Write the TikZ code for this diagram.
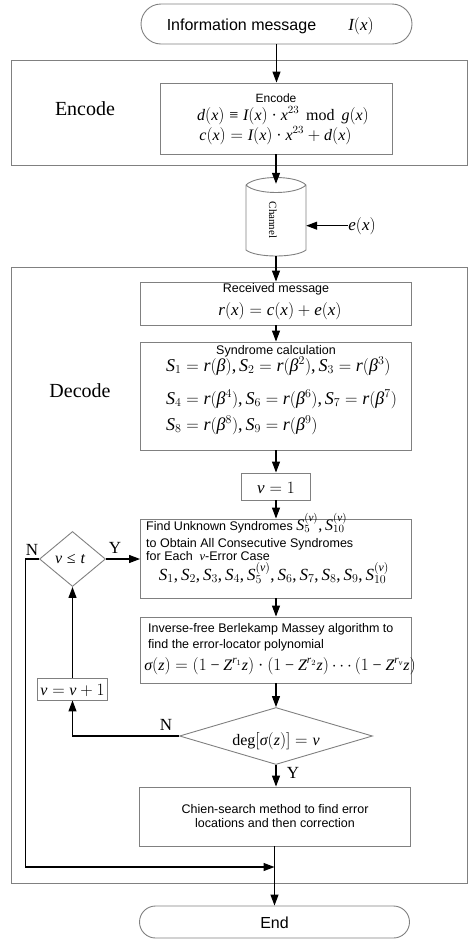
\documentclass[tikz,border=0pt]{standalone}
\usepackage{fontspec}
\setmainfont{Liberation Serif}
\setsansfont{Liberation Sans}
\newfontfamily\libser{Liberation Serif}[NFSSFamily=libser]
\DeclareSymbolFont{tletters}{TU}{libser}{m}{it}
\DeclareSymbolFont{tupright}{TU}{libser}{m}{n}
\newcommand\mletter[1]{\Umathcode`#1="7 \symtletters `#1\relax}
\newcommand\mup[2]{\Umathcode`#2="#1 \symtupright `#2\relax}
\mletter a\mletter c\mletter d\mletter e\mletter g\mletter r\mletter t\mletter v\mletter x\mletter z
\mletter I\mletter S\mletter Z
\mup70\mup71\mup72\mup73\mup74\mup75\mup76\mup77\mup78\mup79
\mup4(\mup5)\mup4[\mup5]\mup3=\mup2+\mup6,
\Umathcode`-="2 \symtupright "2212\relax
\Umathchardef\beta="7 \symtletters "03B2\relax
\Umathchardef\sigma="7 \symtletters "03C3\relax
\Umathchardef\equiv="3 \symtupright "2261\relax
\Umathchardef\leq="3 \symtupright "2264\relax
\let\le\leq
\Umathchardef\cdot="2 \symtupright "00B7\relax
\renewcommand\deg{\mathop{\hbox{\libser deg}}\nolimits}
\newcommand\mmod{\mathop{\hbox{\libser mod}}\nolimits}
\usetikzlibrary{arrows.meta,shapes.geometric}
\definecolor{boxgray}{RGB}{128,128,128}
\newcommand{\fs}[1]{\fontsize{#1}{#1}\selectfont}
\begin{document}
\begin{tikzpicture}[x=1pt,y=-1pt,
  rect/.style={draw=boxgray,line width=0.9pt,inner sep=0pt},
  dia/.style={draw=boxgray,line width=0.9pt,diamond,inner sep=0pt},
  conn/.style={line width=1.1pt,-{Triangle[length=11pt,width=8pt]}},
  lab/.style={inner sep=0pt},
  sf/.style={lab,font=\sffamily\fs{12.5}},
  mth/.style={lab,font=\fs{#1}},
]
\useasboundingbox (0,0) rectangle (474,946);
% ---------- start
\node[rect,rounded corners=20pt,minimum width=271pt,minimum height=40pt] (start) at (276.5,24) {};
\node[lab,anchor=base,font=\sffamily\fs{16}] (starttxt) at (241.5,30) {Information message};
\node[mth=17,anchor=base] (startI) at (361,30) {$I(x)$};
% ---------- encode
\node[rect,minimum width=456pt,minimum height=105pt] (encouter) at (239,112.5) {};
\node[mth=20,anchor=base] (enclab) at (85,115) {Encode};
\node[rect,minimum width=232pt,minimum height=71pt] (enc) at (276,118.5) {};
\node[lab,anchor=base,font=\sffamily\fs{12}] (enctitle) at (276,102) {Encode};
\node[mth=16,anchor=base] (encl1) at (283,120) {$d(x)\equiv I(x)\cdot x^{23}\ \mmod\ g(x)$};
\node[mth=16,anchor=base] (encl2) at (275.5,140) {$c(x)=I(x)\cdot x^{23}+d(x)$};
% ---------- channel
\node[lab,minimum width=60pt,minimum height=72pt] (chan) at (276,220) {};
\draw[boxgray,line width=0.9pt]
  (246,185) .. controls (256,175) and (296,175) .. (306,185)
  (246,185) .. controls (256,195) and (296,195) .. (306,185)
  (246,185) -- (246,250) .. controls (256,258) and (296,258) .. (306,250) -- (306,185);
\node[mth=11,rotate=-90] (chantxt) at (273,220) {Channel};
\node[mth=17,anchor=base] (ex) at (362,230) {$e(x)$};
% ---------- decode
\node[rect,minimum width=456pt,minimum height=616pt] (decouter) at (239,575) {};
\node[mth=20,anchor=base] (declab) at (80,397) {Decode};
\node[rect,minimum width=271pt,minimum height=43pt] (recv) at (276,303.5) {};
\node[sf,anchor=base] (recvtitle) at (276,292) {Received message};
\node[mth=17,anchor=base] (recvm) at (280,315) {$r(x)=c(x)+e(x)$};
\node[rect,minimum width=271pt,minimum height=108pt] (synd) at (276,396) {};
\node[sf,anchor=base] (syndtitle) at (276,354) {Syndrome calculation};
\node[mth=18,anchor=base west] (synd1) at (166,371) {$S_1=r(\beta),S_2=r(\beta^2),S_3=r(\beta^3)$};
\node[mth=18,anchor=base west] (synd2) at (166,404) {$S_4=r(\beta^4),S_6=r(\beta^6),S_7=r(\beta^7)$};
\node[mth=18,anchor=base west] (synd3) at (166,430) {$S_8=r(\beta^8),S_9=r(\beta^9)$};
\node[rect,minimum width=69pt,minimum height=27pt] (v1) at (276,486.5) {};
\node[mth=17,anchor=base] (v1txt) at (276,493) {$v=1$};
\node[rect,minimum width=271pt,minimum height=79pt] (find) at (276,558.5) {};
\node[sf,anchor=base west] (find1) at (146,530) {Find Unknown Syndromes {\fs{16}$S_5^{(v)},S_{10}^{(v)}$}};
\node[sf,anchor=base west] (find2) at (146,547) {to Obtain All Consecutive Syndromes};
\node[sf,anchor=base west] (find3) at (146,560) {for Each~~$v$-Error Case};
\node[mth=17,anchor=base] (find4) at (274,580) {$S_1,S_2,S_3,S_4,S_5^{(v)},S_6,S_7,S_8,S_9,S_{10}^{(v)}$};
\node[dia,minimum width=66pt,minimum height=55pt] (vt) at (72.5,559) {};
\node[mth=16,anchor=base] (vttxt) at (70,563) {$v\le t$};
\node[rect,minimum width=271pt,minimum height=66pt] (inv) at (276,650) {};
\node[sf,anchor=base west] (inv1) at (148,632) {Inverse-free Berlekamp Massey algorithm to};
\node[sf,anchor=base west] (inv2) at (148,648) {find the error-locator polynomial};
\node[mth=16,anchor=base] (inv3) at (280,670) {$\sigma(z)=(1-Z^{r_1}z)\cdot(1-Z^{r_2}z)\cdots(1-Z^{r_v}z)$};
\node[rect,minimum width=70pt,minimum height=22pt] (vv1) at (72.5,689) {};
\node[mth=16,anchor=base] (vv1txt) at (72.5,695) {$v=v+1$};
\node[dia,minimum width=193pt,minimum height=57pt] (deg) at (276,736) {};
\node[mth=16,anchor=base] (degtxt) at (276,745) {$\deg[\sigma(z)]=v$};
\node[rect,minimum width=271pt,minimum height=59pt] (chien) at (274.5,816.5) {};
\node[sf,anchor=base] (chien1) at (275,813) {Chien-search method to find error};
\node[sf,anchor=base] (chien2) at (275,827) {locations and then correction};
% ---------- end
\node[rect,rounded corners=16pt,minimum width=270pt,minimum height=32pt] (end) at (274.5,922) {};
\node[lab,anchor=base,font=\sffamily\fs{16}] (endtxt) at (274.5,928) {End};
\coordinate (join) at (274.5,867);
% ---------- labels
\node[mth=17] (nvt) at (32,550) {N};
\node[mth=17] (yvt) at (115,548) {Y};
\node[mth=17] (ndeg) at (166,725) {N};
\node[mth=17] (ydeg) at (293,773) {Y};
% ---------- connectors
\draw[conn] (start.south) -- (start.south |- enc.north);
\draw[conn] (enc.south) -- (enc.south |- chan.north);
\draw[conn] (chan.south) -- (chan.south |- recv.north);
\draw[conn] (ex.west) -- (ex.west -| chan.east);
\draw[conn] (recv.south) -- (synd.north);
\draw[conn] (synd.south) -- (v1.north);
\draw[conn] (v1.south) -- (find.north);
\draw[conn] (find.south) -- (inv.north);
\draw[conn] (inv.south) -- (deg.north);
\draw[conn] (deg.south) -- (deg.south |- chien.north);
\draw[conn] (deg.west) -| (vv1.south);
\draw[conn] (vv1.north) -- (vt.south);
\draw[conn] (vt.east) -- (vt.east -| find.west);
\draw[conn] (vt.west) -- ++(-14,0) |- (join);
\draw[conn] (chien.south) -- (end.north);
\end{tikzpicture}
\end{document}
